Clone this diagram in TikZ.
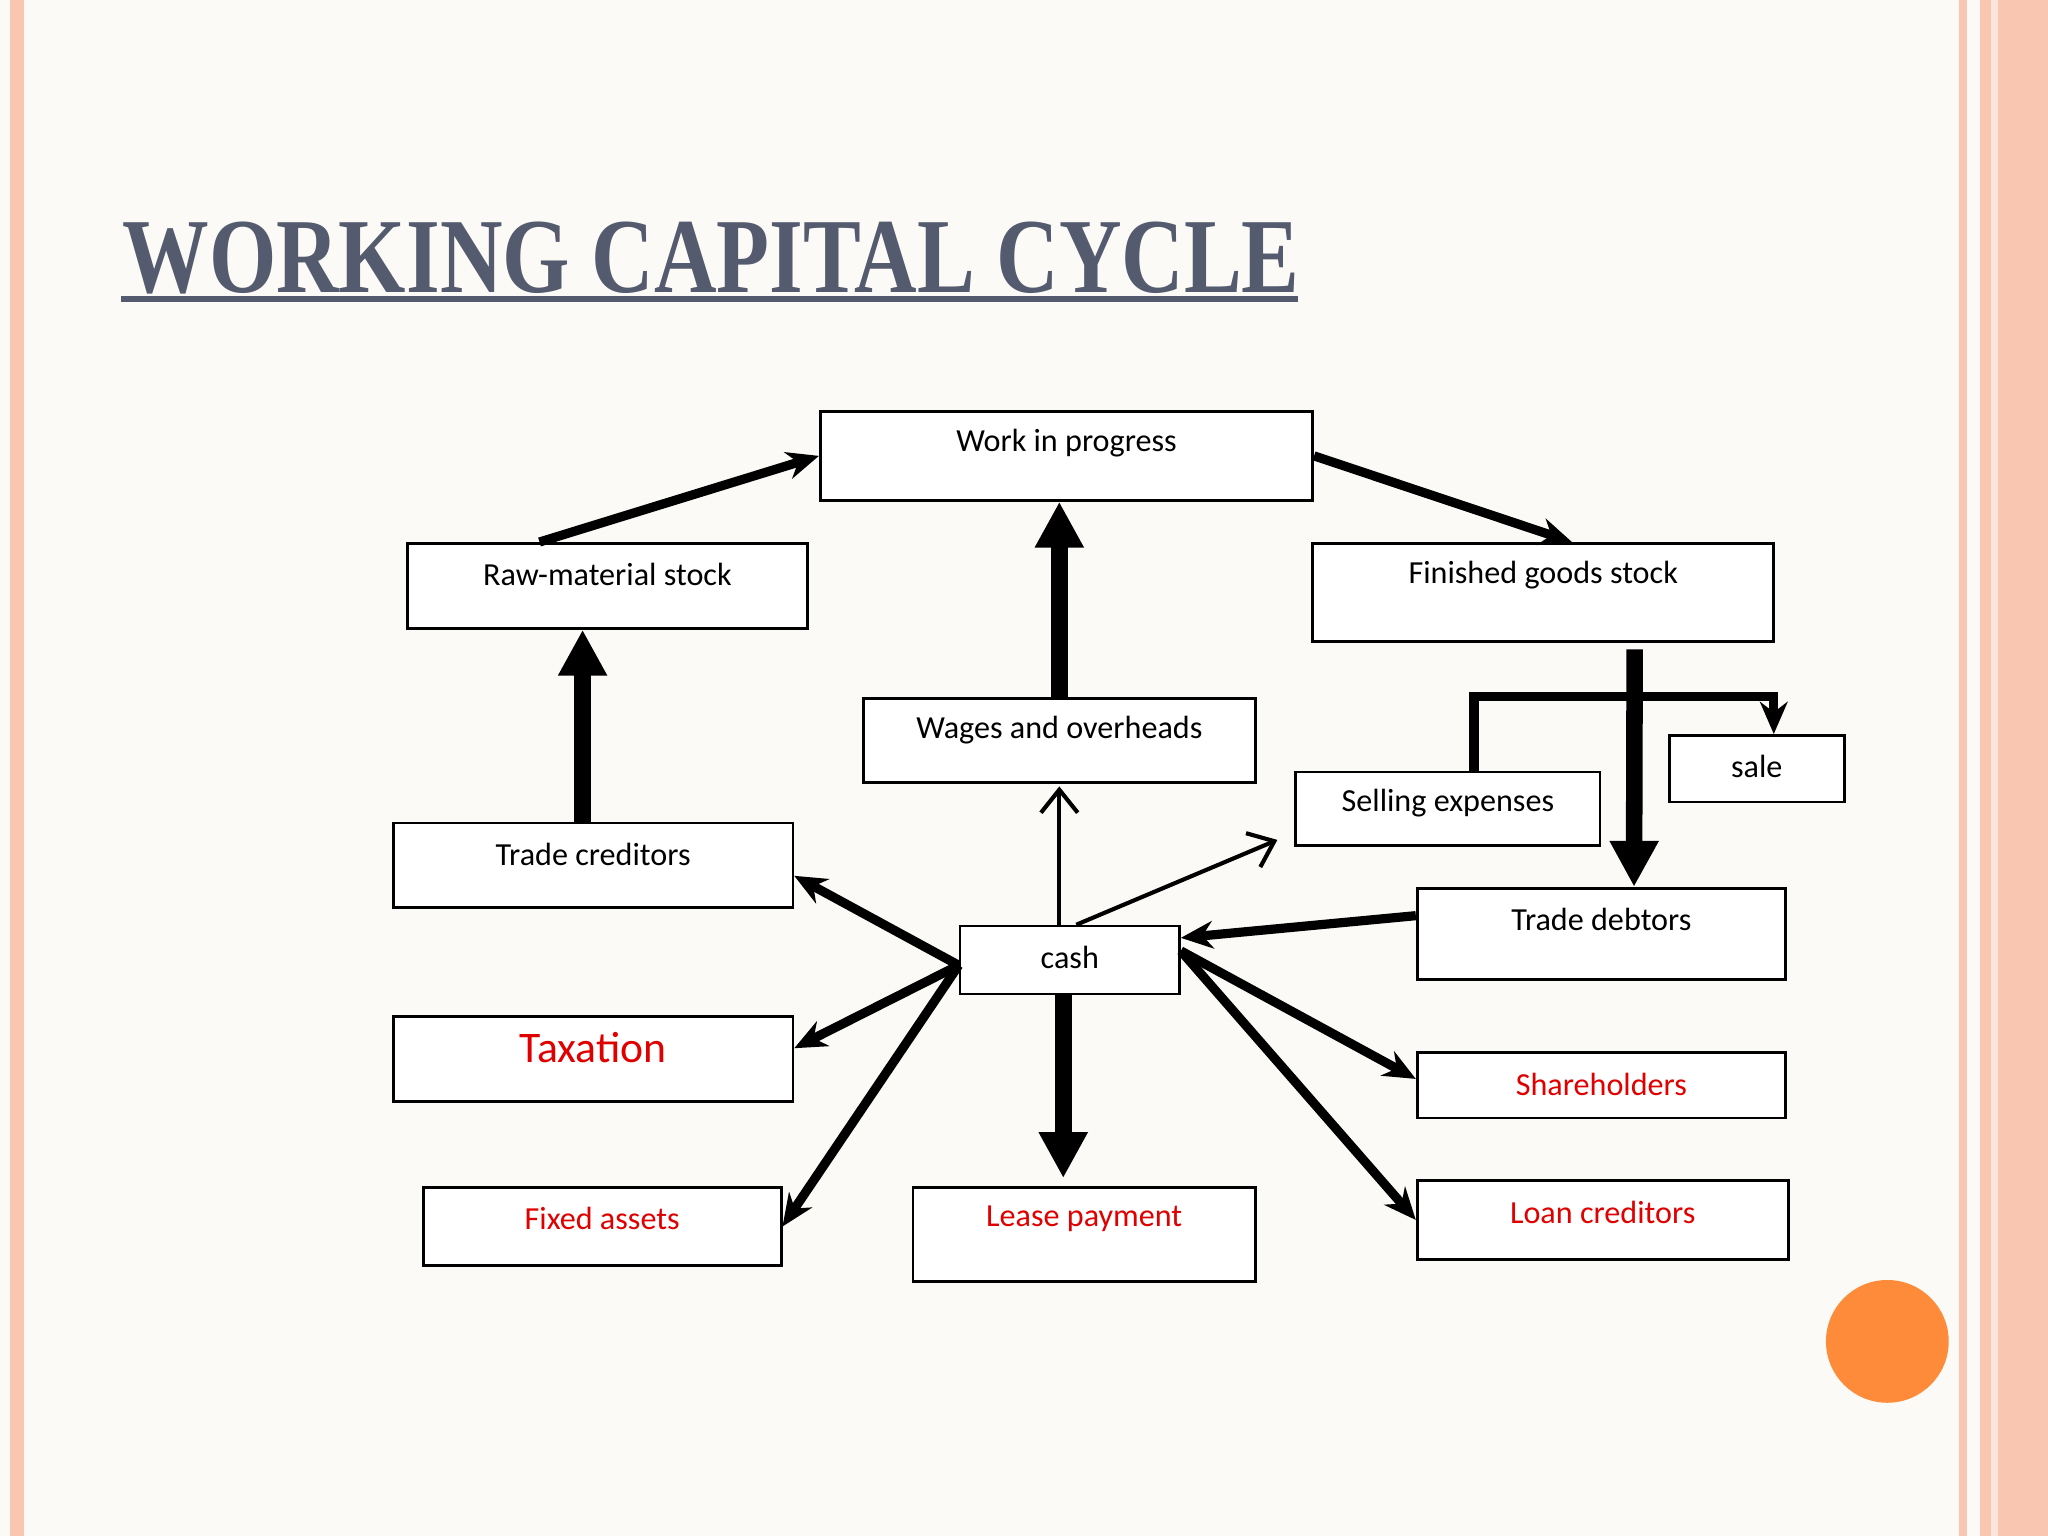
\documentclass[tikz,border=0pt]{standalone}
\usepackage{fontspec}
\setmainfont{Carlito}
\newfontfamily\titlefont{Liberation Serif}
\usetikzlibrary{arrows.meta,calc}
\definecolor{pagebg}{HTML}{FBFAF6}
\definecolor{stripe}{HTML}{F9C6B2}
\definecolor{titlecol}{HTML}{555B6E}
\definecolor{dot}{HTML}{FD8B3A}
\definecolor{redtext}{HTML}{E00000}
\begin{document}
\begin{tikzpicture}
[x=0.01cm,y=-0.01cm,
  boxDecorate/.style={draw,rectangle,line width=0.6pt,inner sep=0pt,fill=white},
  plain/.style={black},
  red/.style={text=redtext},
  redbig/.style={text=redtext,font=\fontsize{9.5}{11}\selectfont},
  flowLine/.style={line width=2pt,-{Stealth[length=7pt,width=6pt]}},
  bigLine/.style={line width=3.6pt,-{Triangle[length=10pt,width=10pt]}},
  thinLine/.style={line width=0.9pt,-{Straight Barb[open,length=5pt,width=8pt]}},
  font=\fontsize{7}{8.5}\selectfont]
%% page
\useasboundingbox (0,0) rectangle (1568,1176);
\fill[pagebg] (0,0) rectangle (1568,1176);
\fill[stripe] (8,0) rectangle (18,1176);
\fill[stripe] (1500,0) rectangle (1506,1176);
\fill[stripe] (1516,0) rectangle (1568,1176);
\fill[pagebg!60!stripe] (1524,0) rectangle (1530,1176);
\fill[dot] (1445,1027) circle (47);
%% title
\node (title) [anchor=south west,inner sep=0pt,text=titlecol] at (93,226)
  {\resizebox{9.01cm}{0.54cm}{\titlefont\bfseries WORKING CAPITAL CYCLE}};
\draw[titlecol,line width=1.3pt] (title.south west) ++(0,3) -- ++(901,0);
%% boxes
\foreach \nodename/\xa/\ya/\xb/\yb/\txt/\st in {
  wip/627/314/1004/382/Work in progress/plain,
  raw/311/415/617/480/Raw-material stock/plain,
  fin/1004/415/1357/490/Finished goods stock/plain,
  wages/660/534/960/598/Wages and overheads/plain,
  sell/991/590/1224/646/Selling expenses/plain,
  sale/1277/562/1411/613/sale/plain,
  tc/300/629/606/694/Trade creditors/plain,
  td/1084/679/1366/749/Trade debtors/plain,
  cash/734/708/902/760/cash/plain,
  tax/300/777/606/842/Taxation/redbig,
  sh/1084/805/1366/855/Shareholders/red,
  fixed/323/908/597/968/Fixed assets/red,
  lease/698/908/960/980/Lease payment/red,
  loan/1084/903/1368/963/Loan creditors/red}
{
  \node (\nodename) [boxDecorate,anchor=north west,
    minimum width={(\xb-\xa)*0.01cm},minimum height={(\yb-\ya)*0.01cm},
    label={[anchor=center,yshift=-0.25cm,\st]north:{\txt}}] at (\xa,\ya) {};
}
%% flows
\draw[flowLine] ($(raw.north)+(-52,0)$) -- (wip.west);
\draw[flowLine] (wip.east) -- ($(fin.north)+(22,0)$);
\draw[bigLine] (wages.north) -- (wages.north |- wip.south);
\draw[bigLine] ($(tc.north)+(-8,0)$) -- ($(raw.south)+(-19,0)$);
\draw[bigLine] ($(fin.south)+(70,5)$) -- ($(td.north)+(25,0)$);
\draw[line width=2pt,-{Stealth[length=7pt,width=6pt]}] ($(sell.north)+(20,0)$)
  |- ($(sale.north)+(13,-29)$) -- ($(sale.north)+(13,0)$);
\draw[thinLine] ($(cash.north)+(-8,0)$) -- ($(wages.south)+(0,2)$);
\draw[thinLine] ($(cash.north)+(5,0)$) -- ($(sell.west)+(-13,24)$);
\draw[flowLine] ($(td.west)+(0,-14)$) -- ($(cash.east)+(0,-17)$);
\draw[flowLine] ($(cash.west)+(0,4)$) -- ($(tc.east)+(0,8)$);
\draw[flowLine] ($(cash.west)+(0,4)$) -- ($(tax.east)+(0,-8)$);
\draw[flowLine] ($(cash.west)+(0,4)$) -- (fixed.east);
\draw[bigLine] ($(cash.south)+(-5,0)$) -- ($(lease.north)+(-16,-6)$);
\draw[flowLine] ($(cash.east)+(0,-7)$) -- ($(sh.west)+(0,-5)$);
\draw[flowLine] ($(cash.east)+(0,-7)$) -- (loan.west);
\end{tikzpicture}
\end{document}
